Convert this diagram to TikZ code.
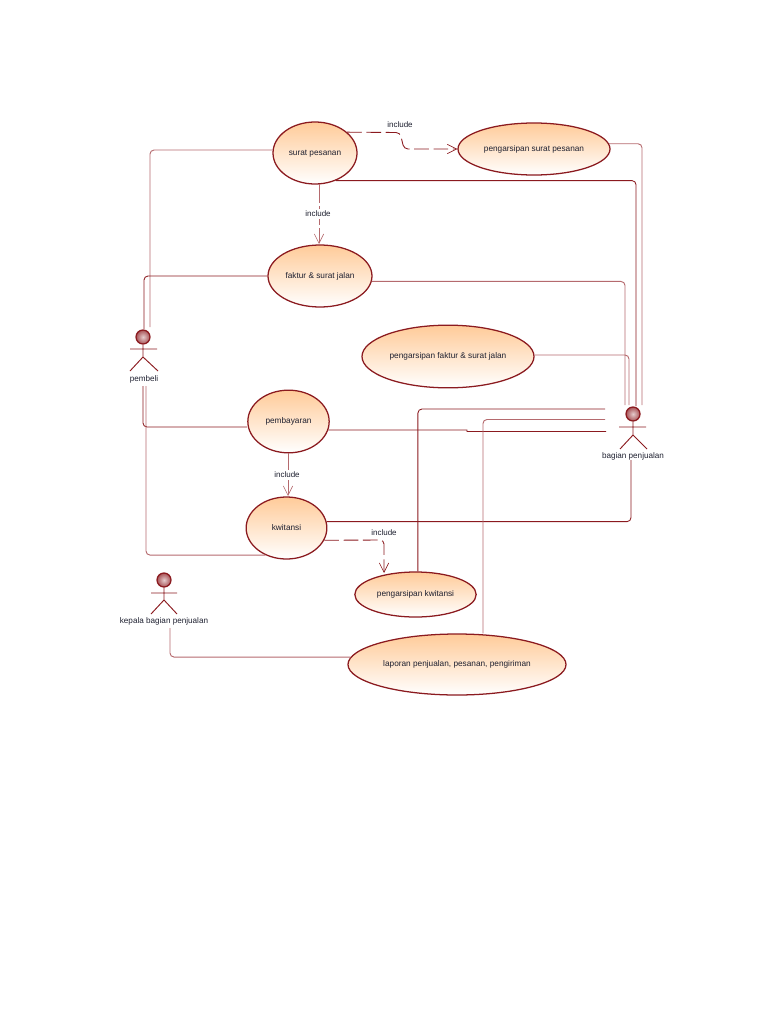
\documentclass[tikz,border=0pt]{standalone}
\usepackage{fontspec}
\setmainfont{Liberation Sans}
\usetikzlibrary{shapes.geometric,arrows.meta}
\definecolor{umldark}{HTML}{8B1A1F}
\definecolor{umllight}{HTML}{B56A6E}
\definecolor{umlfill}{HTML}{FFCB99}
\definecolor{umltext}{HTML}{1E2030}
\tikzset{
 usecase/.style={ellipse,draw=umldark,line width=0.95pt,inner sep=0pt,top color=umlfill,bottom color=white,
   minimum width=#1,font=\fontsize{6.2}{7}\selectfont,text=umltext,text height=4.6pt,text depth=1.1pt},
 actorhead/.style={circle,draw=umldark,line width=0.95pt,minimum size=10.5pt,inner sep=0pt,
   inner color=umllight!35!white,outer color=umldark!75!white},
 actorline/.style={draw=umldark,line width=0.7pt},
 actorlabel/.style={font=\fontsize{6.1}{7}\selectfont,text=umltext,inner sep=0pt,text height=4.6pt,text depth=1.1pt},
 inclabel/.style={font=\fontsize{6}{7}\selectfont,text=umltext,inner sep=1.2pt,fill=white,text height=4.6pt,text depth=0.2pt},
 assocdark/.style={draw=umldark,line width=0.65pt,rounded corners=3pt},
 assoclight/.style={draw=umllight,line width=0.7pt,rounded corners=3pt},
 incl/.style={draw=umldark,line width=0.65pt,rounded corners=3pt,dash pattern=on 11pt off 3.5pt,
   -{Straight Barb[length=7pt,width=7pt,line width=0.5pt]}},
 incllight/.style={incl,draw=umllight,dash pattern=on 14pt off 2.5pt},
}
\begin{document}
\begin{tikzpicture}[x=0.75pt,y=-0.75pt]
\useasboundingbox (0,0) rectangle (768,1024);
% use cases
\node[usecase=63pt,minimum height=46.5pt] (surat) at (315,153) {surat pesanan};
\node[usecase=78pt,minimum height=46.5pt] (faktur) at (320,276) {faktur \& surat jalan};
\node[usecase=114pt,minimum height=39pt] (arsipsurat) at (534,149) {pengarsipan surat pesanan};
\node[usecase=129pt,minimum height=47pt] (arsipfaktur) at (448,356.5) {pengarsipan faktur \& surat jalan};
\node[usecase=61pt,minimum height=47pt] (bayar) at (288.5,421.5) {pembayaran};
\node[usecase=60.5pt,minimum height=46.5pt] (kwit) at (286.5,528) {kwitansi};
\node[usecase=91pt,minimum height=33.75pt] (arsipkwit) at (415.5,594.5) {pengarsipan kwitansi};
\node[usecase=163.5pt,minimum height=45.75pt] (laporan) at (457,664.5) {laporan penjualan, pesanan, pengiriman};
% actors
\node[actorhead] (pembeli) at (143,337) {};
\draw[actorline] (pembeli.south) -- (143,357) -- (130,371) (143,357) -- (158,371) (130,349) -- (157,349);
\node[actorlabel] (pembelilabel) at (144,379) {pembeli};
\node[actorhead] (bagian) at (633,414) {};
\draw[actorline] (bagian.south) -- (633,435) -- (620,449) (633,435) -- (647,449) (619,427) -- (646,427);
\node[actorlabel] (bagianlabel) at (633,456) {bagian penjualan};
\node[actorhead] (kepala) at (164,580) {};
\draw[actorline] (kepala.south) -- (164,600) -- (151,614) (164,600) -- (177,614) (151,593) -- (177,593);
\node[actorlabel] (kepalalabel) at (164,621) {kepala bagian penjualan};
% free ends of the connectors
\coordinate (pa) at (150,327);
\coordinate (pb) at (144,329);
\coordinate (pc) at (143,386);
\coordinate (pd) at (146,386);
\coordinate (ba) at (636,406);
\coordinate (bb) at (642,405);
\coordinate (bc) at (625,405);
\coordinate (bd) at (629,405);
\coordinate (be) at (631,460);
\coordinate (bf) at (606,431.5);
\coordinate (bg) at (605,409);
\coordinate (bh) at (605,419.5);
\coordinate (ka) at (170,628);
% associations
\draw[assoclight] (surat.176.5) -| (pa);
\draw[assocdark] (pb) |- (faktur.west);
\draw[assocdark] (pc) |- (bayar.west |- 0,427);
\draw[assoclight] (pd) |- (kwit.-128);
\draw[assoclight] (ka) |- (laporan.176);
\draw[assocdark] (surat.-53) -| (ba);
\draw[assoclight] (arsipsurat.4) -| (bb);
\draw[assoclight] (faktur.-6) -| (bc);
\draw[assoclight] (arsipfaktur.east |- 0,355) -| (bd);
\draw[assocdark] (kwit.9) -| (be);
\draw[assocdark,rounded corners=0pt] (bayar.-12) -- (467,430) -- (467,431.5) -- (bf);
\draw[assocdark] (arsipkwit.84) |- (bg);
\draw[assoclight] (laporan.north -| 483,0) |- (bh);
% include relations
\draw[incl] (surat.33) -- (400,132.5) -- (404,149) -- (arsipsurat.west);
\node[inclabel] (inca) at (400,124.5) {include};
\draw[incllight] (319,184) -- (319,244);
\node[inclabel] (incb) at (318,214) {include};
\draw[incllight] (288,453) -- (288,496);
\node[inclabel] (incc) at (287,475) {include};
\draw[incl] (kwit.-18) -- (384,540) -- (384,573);
\node[inclabel] (incd) at (384,533) {include};
\end{tikzpicture}
\end{document}
